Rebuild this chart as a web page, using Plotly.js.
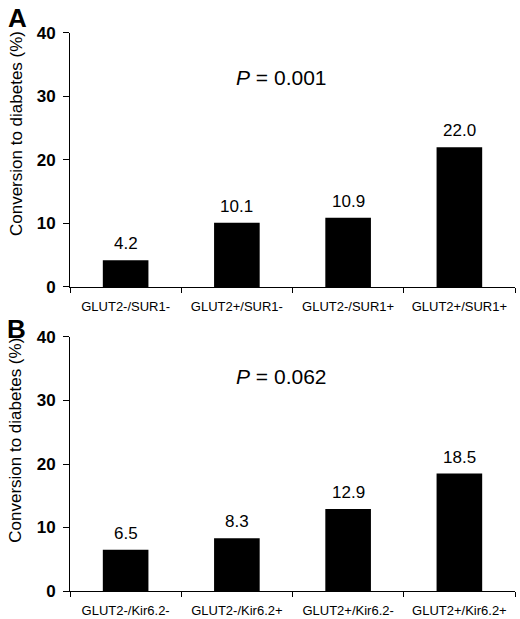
<!DOCTYPE html>
<html>
<head>
<meta charset="utf-8">
<script src="https://cdn.plot.ly/plotly-3.0.1.min.js"></script>
<style>
  html, body { margin: 0; padding: 0; background: #fff; }
  #chart { width: 520px; height: 619px; }
</style>
</head>
<body>
<div id="chart"></div>
<script>
// panel A: GLUT2 x SUR1
let catsA = ['GLUT2-/SUR1-', 'GLUT2+/SUR1-', 'GLUT2-/SUR1+', 'GLUT2+/SUR1+'];
let valsA = [4.2, 10.1, 10.9, 22.0];
let pA = '0.001';

// panel B: GLUT2 x Kir6.2
let catsB = ['GLUT2-/Kir6.2-', 'GLUT2-/Kir6.2+', 'GLUT2+/Kir6.2-', 'GLUT2+/Kir6.2+'];
let valsB = [6.5, 8.3, 12.9, 18.5];
let pB = '0.062';

let yTicks = [0, 10, 20, 30, 40];
let yTitle = 'Conversion to diabetes (%)';

let font = 'Arial, "Liberation Sans", sans-serif';

let traceA = {
    x: catsA,
    y: valsA,
    type: 'bar',
    width: 0.41,
    marker: {color: '#000'},
    xaxis: 'x',
    yaxis: 'y',
    hoverinfo: 'none'
};
let traceB = {
    x: catsB,
    y: valsB,
    type: 'bar',
    width: 0.41,
    marker: {color: '#000'},
    xaxis: 'x2',
    yaxis: 'y2',
    hoverinfo: 'none'
};

function xAxis(anchor) {
    return {
        anchor: anchor,
        domain: [0, 1],
        type: 'category',
        showline: true,
        linecolor: '#000',
        linewidth: 1,
        ticks: 'outside',
        tickson: 'boundaries',
        ticklen: 5,
        tickcolor: '#000',
        ticklabelstandoff: 7,
        tickfont: {family: font, size: 13, color: '#000'},
        showgrid: false,
        zeroline: false,
        fixedrange: true,
        automargin: false
    };
}

function yAxis(anchor, domain) {
    return {
        anchor: anchor,
        domain: domain,
        range: [0, 40],
        tickvals: yTicks,
        ticktext: yTicks.map(String),
        showline: true,
        linecolor: '#000',
        linewidth: 1,
        ticks: 'outside',
        ticklen: 6,
        tickcolor: '#000',
        ticklabelstandoff: 4,
        tickfont: {family: font, size: 17, color: '#000', weight: 'bold'},
        showgrid: false,
        zeroline: false,
        fixedrange: true,
        automargin: false
    };
}

// centred paper-referenced text
function label(x, y, text, size, extra) {
    let a = {
        x: x, y: y, xref: 'paper', yref: 'paper',
        xanchor: 'center', yanchor: 'middle',
        text: text, showarrow: false,
        font: {family: font, size: size, color: '#000'}
    };
    return Object.assign(a, extra || {});
}

// value labels above each bar
let annotations = [];
valsA.forEach(function (v, i) {
    annotations.push({
        x: catsA[i], y: v, xref: 'x', yref: 'y',
        xanchor: 'center', yanchor: 'bottom', yshift: 5,
        text: v.toFixed(1), showarrow: false,
        font: {family: font, size: 17, color: '#000'}
    });
});
valsB.forEach(function (v, i) {
    annotations.push({
        x: catsB[i], y: v, xref: 'x2', yref: 'y2',
        xanchor: 'center', yanchor: 'bottom', yshift: 5,
        text: v.toFixed(1), showarrow: false,
        font: {family: font, size: 17, color: '#000'}
    });
});

// P values
annotations.push(label(0.476, 0.8756, '<i>P</i> = ' + pA, 21));
annotations.push(label(0.476, 0.391, '<i>P</i> = ' + pB, 21));

// axis titles
annotations.push(label(-0.1213, 0.7835, yTitle, 17, {textangle: -90}));
annotations.push(label(-0.1213, 0.288, yTitle, 17, {textangle: -90}));

// panel letters
annotations.push(label(-0.119, 0.9717, '<b>A</b>', 26));
annotations.push(label(-0.121, 0.4685, '<b>B</b>', 26));

let layout = {
    width: 520,
    height: 619,
    margin: {l: 70, r: 5, t: 0, b: 0},
    paper_bgcolor: '#fff',
    plot_bgcolor: '#fff',
    showlegend: false,
    xaxis: xAxis('y'),
    yaxis: yAxis('x', [0.5364, 0.9467]),
    xaxis2: xAxis('y2'),
    yaxis2: yAxis('x2', [0.0452, 0.4556]),
    annotations: annotations,
    font: {family: font, color: '#000'}
};

Plotly.newPlot('chart', [traceA, traceB], layout, {staticPlot: true});
</script>
</body>
</html>
